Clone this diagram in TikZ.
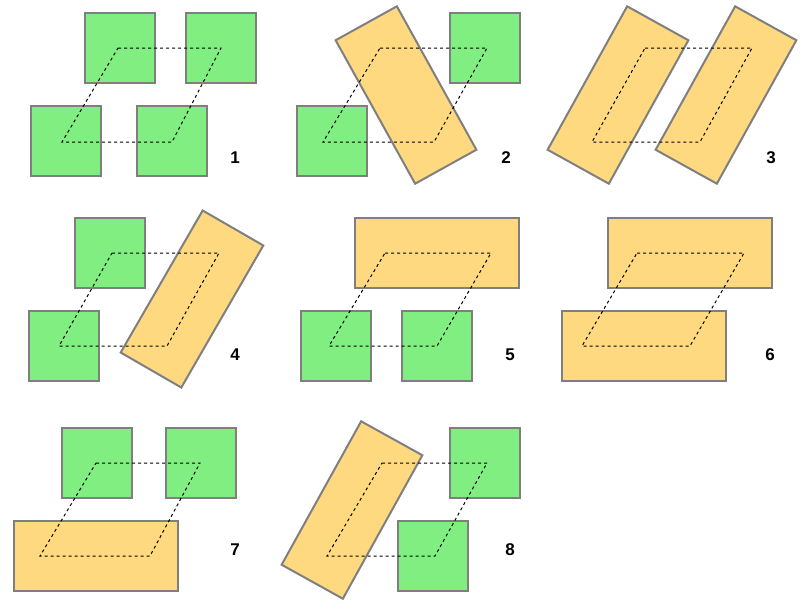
\documentclass[tikz,border=0pt]{standalone}
\usepackage{fontspec}
\setmainfont{Liberation Sans}
\begin{document}
\begin{tikzpicture}[x=1pt,y=-1pt,
  sq/.style={draw=gray!95!black, line width=2pt, fill=green!45!white!95!lime, minimum size=70pt, inner sep=0pt},
  rc/.style={draw=gray!95!black, line width=2pt, fill=orange!30!yellow!55!white, minimum width=164pt, minimum height=70pt, inner sep=0pt},
  par/.style={dashed, line width=1pt, dash pattern=on 3pt off 3pt},
  lab/.style={font=\bfseries\fontsize{17}{17}\selectfont}]
\definecolor{grn}{HTML}{80EE80}\definecolor{yel}{HTML}{FFD980}\definecolor{bd}{HTML}{7F7F7F}
\tikzset{sq/.append style={fill=grn,draw=bd}, rc/.append style={fill=yel,draw=bd}}
\useasboundingbox (0,0) rectangle (801,600);
% panel 1
\node[sq] (a1) at (120,48) {}; \node[sq] (b1) at (221,48) {};
\node[sq] (c1) at (66,141) {}; \node[sq] (d1) at (172,141) {};
\draw[par] (118,48) -- (221,48) -- (172,142) -- (62,142) -- cycle;
\node[lab] (l1) at (235,158) {1};
% panel 2
\node[sq] (c2) at (332,141) {}; \node[sq] (b2) at (485,48) {};
\node[rc, rotate=-61] (r2) at (406,95) {};
\draw[par] (380,48) -- (487,48) -- (434,142) -- (323,142) -- cycle;
\node[lab] (l2) at (506,158) {2};
% panel 3
\node[rc, rotate=61] (r3a) at (618,95) {};
\node[rc, rotate=61] (r3b) at (726,95) {};
\draw[par] (645,48) -- (752,48) -- (700,142) -- (592,142) -- cycle;
\node[lab] (l3) at (771,158) {3};
% panel 4
\node[sq] (a4) at (110,253) {}; \node[sq] (c4) at (64,346) {};
\node[rc, rotate=60] (r4) at (192,299) {};
\draw[par] (112,253) -- (219,253) -- (167,346) -- (59,346) -- cycle;
\node[lab] (l4) at (235,355) {4};
% panel 5
\node[rc] (r5) at (437,253) {};
\node[sq] (c5) at (336,346) {}; \node[sq] (d5) at (437,346) {};
\draw[par] (385,253) -- (491,253) -- (437,346) -- (329,346) -- cycle;
\node[lab] (l5) at (510,355) {5};
% panel 6
\node[rc] (r6a) at (690,253) {};
\node[rc] (r6b) at (644,346) {};
\draw[par] (637,253) -- (744,253) -- (690,346) -- (582,346) -- cycle;
\node[lab] (l6) at (770,355) {6};
% panel 7
\node[sq] (a7) at (97,463) {}; \node[sq] (b7) at (201,463) {};
\node[rc] (r7) at (96,556) {};
\draw[par] (96,463) -- (200,463) -- (150,556) -- (40,556) -- cycle;
\node[lab] (l7) at (235,550) {7};
% panel 8
\node[sq] (b8) at (485,463) {};
\node[rc, rotate=61] (r8) at (352,510) {};
\node[sq] (d8) at (433,556) {};
\draw[par] (382,463) -- (487,463) -- (435,556) -- (327,556) -- cycle;
\node[lab] (l8) at (510,550) {8};
\end{tikzpicture}
\end{document}
